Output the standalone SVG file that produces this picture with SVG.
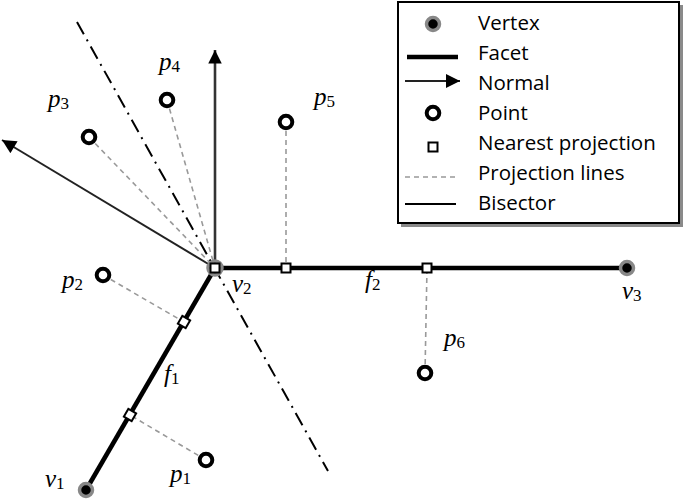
<svg xmlns="http://www.w3.org/2000/svg" width="685" height="500" viewBox="0 0 685 500">
<defs>
<style>
.facet{stroke:#000;stroke-width:4.5;fill:none;stroke-linecap:butt}
.normal{stroke:#222;stroke-width:2;fill:none}
.nv{stroke:#333;stroke-width:2.6;fill:none}
.proj{stroke:#999;stroke-width:1.6;stroke-dasharray:5 4;fill:none}
.bis{stroke:#000;stroke-width:2;stroke-dasharray:14 6 2 6;fill:none}
.pt{fill:#fff;stroke:#000;stroke-width:4}
.sq{fill:#fff;stroke:#000;stroke-width:2}
.vx{fill:#000;stroke:#888;stroke-width:3.5}
.lab{font-family:"Liberation Serif","DejaVu Serif",serif;font-style:italic;font-size:25px;fill:#000}
.sub{font-style:normal;font-size:17px}
.leg{font-family:"Open Sans","Liberation Sans",sans-serif;font-size:20.5px;fill:#000}
</style>
<marker id="ah" viewBox="0 0 10 10" refX="10" refY="5" markerWidth="7.5" markerHeight="7" markerUnits="strokeWidth" orient="auto">
<path d="M0,0 L10,5 L0,10 z" fill="#000"/>
</marker>
<marker id="ahv" viewBox="0 0 10 10" refX="10" refY="5" markerWidth="5.5" markerHeight="5.2" markerUnits="strokeWidth" orient="auto">
<path d="M0,0 L10,5 L0,10 z" fill="#000"/>
</marker>
</defs>
<rect width="685" height="500" fill="#fff"/>

<g id="connectors">
<line class="bis" x1="77" y1="22" x2="328" y2="471"/>
<line class="proj" x1="206" y1="460" x2="130" y2="415"/>
<line class="proj" x1="103" y1="275" x2="184" y2="322"/>
<line class="proj" x1="89" y1="137" x2="215" y2="268"/>
<line class="proj" x1="167" y1="100" x2="215" y2="268"/>
<line class="proj" x1="286" y1="122" x2="286" y2="268"/>
<line class="proj" x1="425" y1="373" x2="427" y2="268"/>
<line class="nv" x1="215" y1="268" x2="215" y2="50" marker-end="url(#ahv)"/>
<line class="normal" x1="215" y1="268" x2="2" y2="140" marker-end="url(#ah)"/>
<line id="f1" class="facet" x1="86" y1="490" x2="215" y2="268"/>
<line id="f2" class="facet" x1="215" y1="268" x2="627" y2="268"/>
</g>

<g id="v1"><circle class="vx" cx="86" cy="490" r="6.5"/><text class="lab" x="45" y="487">v<tspan class="sub" dy="2">1</tspan></text></g>
<g id="v2"><circle class="vx" cx="215" cy="268" r="7"/><rect class="sq" x="210.5" y="263.5" width="9" height="9"/><text class="lab" x="232" y="292">v<tspan class="sub" dy="2">2</tspan></text></g>
<g id="v3"><circle class="vx" cx="627" cy="268" r="6.5"/><text class="lab" x="622" y="299">v<tspan class="sub" dy="2">3</tspan></text></g>

<g id="f1label"><text class="lab" x="164" y="382">f<tspan class="sub" dy="2">1</tspan></text></g>
<g id="f2label"><text class="lab" x="365" y="288">f<tspan class="sub" dy="2">2</tspan></text></g>

<g id="sq1"><rect class="sq" x="-4.5" y="-4.5" width="9" height="9" transform="translate(130,415) rotate(-60)"/></g>
<g id="sq2"><rect class="sq" x="-4.5" y="-4.5" width="9" height="9" transform="translate(184,322) rotate(-60)"/></g>
<g id="sq3"><rect class="sq" x="281.5" y="263.5" width="9" height="9"/></g>
<g id="sq4"><rect class="sq" x="422.5" y="263.5" width="9" height="9"/></g>

<g id="p1"><circle class="pt" cx="206" cy="460" r="6.3"/><text class="lab" x="170" y="482">p<tspan class="sub" dy="2">1</tspan></text></g>
<g id="p2"><circle class="pt" cx="103" cy="275" r="6.3"/><text class="lab" x="62" y="288">p<tspan class="sub" dy="2">2</tspan></text></g>
<g id="p3"><circle class="pt" cx="89" cy="137" r="6.3"/><text class="lab" x="48" y="107">p<tspan class="sub" dy="2">3</tspan></text></g>
<g id="p4"><circle class="pt" cx="167" cy="100" r="6.3"/><text class="lab" x="159" y="70">p<tspan class="sub" dy="2">4</tspan></text></g>
<g id="p5"><circle class="pt" cx="286" cy="122" r="6.3"/><text class="lab" x="314" y="105">p<tspan class="sub" dy="2">5</tspan></text></g>
<g id="p6"><circle class="pt" cx="425" cy="373" r="6.3"/><text class="lab" x="444" y="346">p<tspan class="sub" dy="2">6</tspan></text></g>

<g id="legend">
<rect x="401" y="5" width="282" height="222" fill="#8a8a8a"/>
<rect x="398" y="2" width="281" height="221" fill="#fff" stroke="#000" stroke-width="2"/>
<circle class="vx" cx="433" cy="24" r="6.5"/>
<text class="leg" x="478" y="30">Vertex</text>
<line class="facet" x1="407" y1="57" x2="458" y2="57"/>
<text class="leg" x="478" y="60">Facet</text>
<line class="normal" x1="405" y1="81" x2="460" y2="81" marker-end="url(#ah)"/>
<text class="leg" x="478" y="90">Normal</text>
<circle class="pt" cx="433" cy="113" r="6.3"/>
<text class="leg" x="478" y="120">Point</text>
<rect class="sq" x="428.5" y="142.5" width="9" height="9"/>
<text class="leg" x="478" y="150">Nearest projection</text>
<line class="proj" x1="405" y1="177" x2="458" y2="177"/>
<text class="leg" x="478" y="180">Projection lines</text>
<line x1="405" y1="204" x2="456" y2="204" stroke="#000" stroke-width="2"/>
<text class="leg" x="478" y="210">Bisector</text>
</g>
</svg>
